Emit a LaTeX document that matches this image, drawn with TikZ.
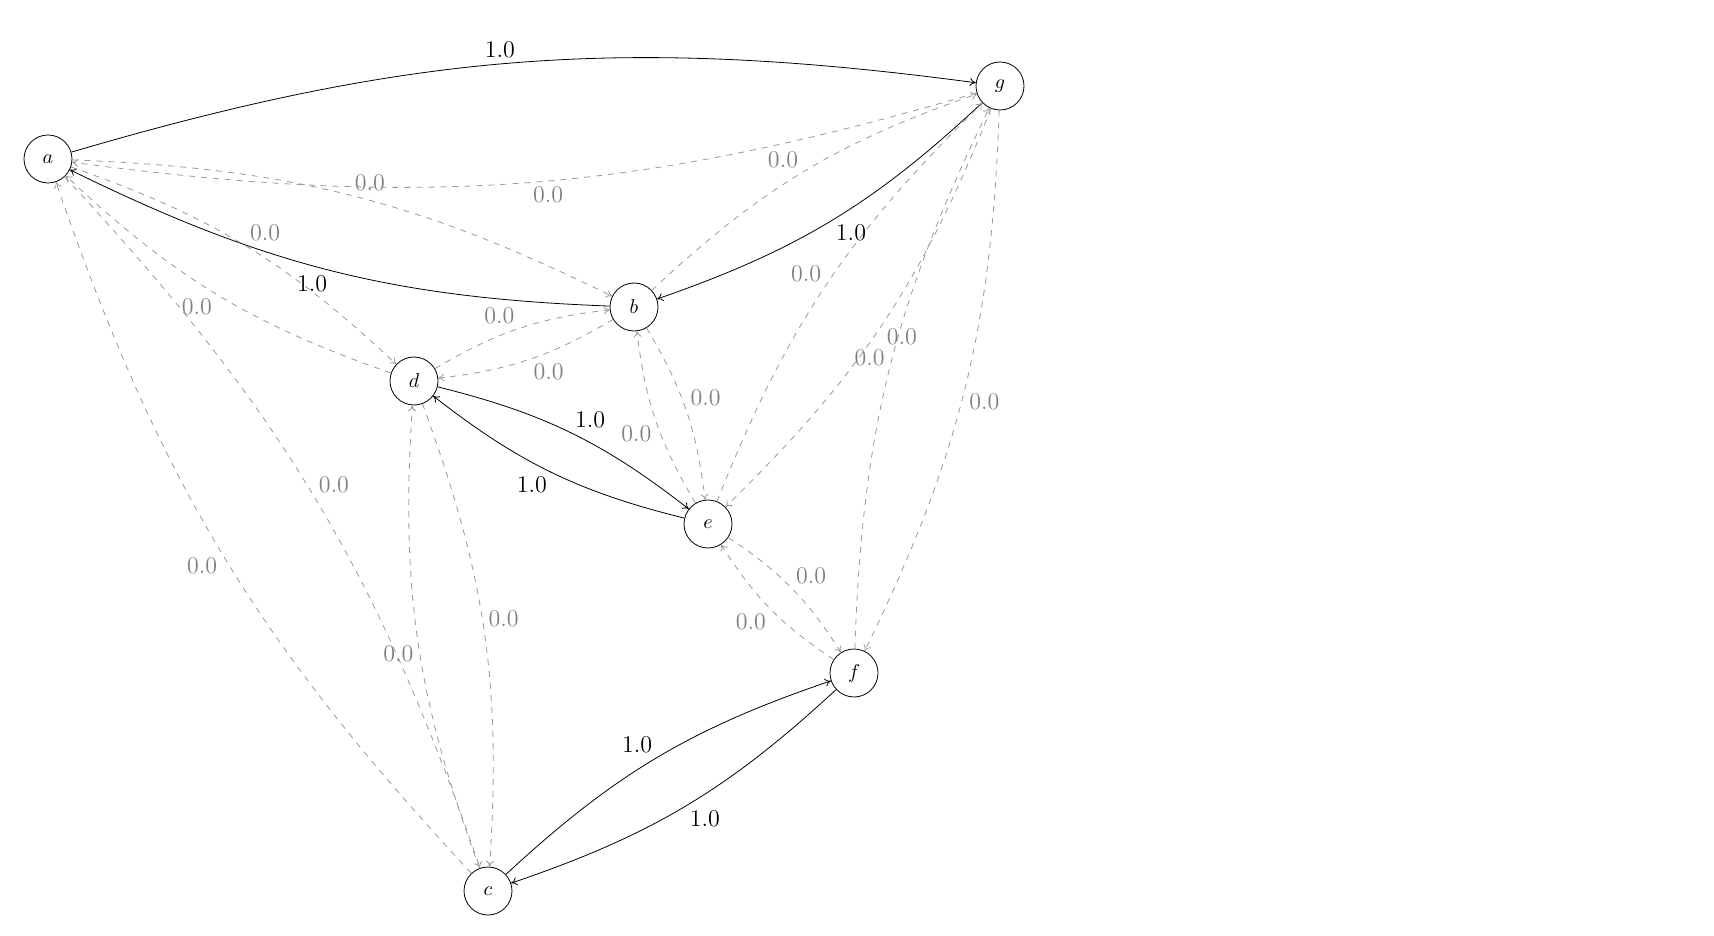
\documentclass[tikz,border=0pt]{standalone}
\usetikzlibrary{arrows.meta}
\begin{document}
\begin{tikzpicture}[x=0.5pt,y=-0.5pt,
  vtx/.style={circle,draw,minimum size=24pt,inner sep=0pt},
  one/.style={->,>={To[length=3pt,width=4pt]},bend left=12,black},
  zero/.style={->,>={To[length=3pt,width=4pt]},bend left=12,gray!80,dashed},
  lbl/.style={midway,auto,inner sep=2pt,font=\large},
  zl/.style={lbl,text=gray}]
\useasboundingbox (0,0) rectangle (1714,936);
\node[vtx] (a) at (48,159) {$a$};
\node[vtx] (g) at (1000,86) {$g$};
\node[vtx] (b) at (634,307) {$b$};
\node[vtx] (d) at (414,381) {$d$};
\node[vtx] (e) at (708,524) {$e$};
\node[vtx] (f) at (854,673) {$f$};
\node[vtx] (c) at (488,891) {$c$};
\draw[one] (a) to node[lbl]{1.0} (g);
\draw[zero] (g) to node[zl]{0.0} (a);
\draw[one] (b) to node[lbl]{1.0} (a);
\draw[zero] (a) to node[zl]{0.0} (b);
\draw[one] (g) to node[lbl]{1.0} (b);
\draw[zero] (b) to node[zl]{0.0} (g);
\draw[zero] (a) to node[zl]{0.0} (d);
\draw[zero] (d) to node[zl]{0.0} (a);
\draw[zero] (d) to node[zl]{0.0} (b);
\draw[zero] (b) to node[zl]{0.0} (d);
\draw[one] (d) to node[lbl]{1.0} (e);
\draw[one] (e) to node[lbl]{1.0} (d);
\draw[zero] (b) to node[zl]{0.0} (e);
\draw[zero] (e) to node[zl]{0.0} (b);
\draw[zero] (g) to node[zl]{0.0} (e);
\draw[zero] (e) to node[zl]{0.0} (g);
\draw[zero] (g) to node[zl]{0.0} (f);
\draw[zero] (f) to node[zl]{0.0} (g);
\draw[zero] (e) to node[zl]{0.0} (f);
\draw[zero] (f) to node[zl]{0.0} (e);
\draw[one] (c) to node[lbl]{1.0} (f);
\draw[one] (f) to node[lbl]{1.0} (c);
\draw[zero] (c) to node[zl]{0.0} (d);
\draw[zero] (d) to node[zl]{0.0} (c);
\draw[zero] (a) to node[zl]{0.0} (c);
\draw[zero] (c) to node[zl]{0.0} (a);
\end{tikzpicture}
\end{document}
